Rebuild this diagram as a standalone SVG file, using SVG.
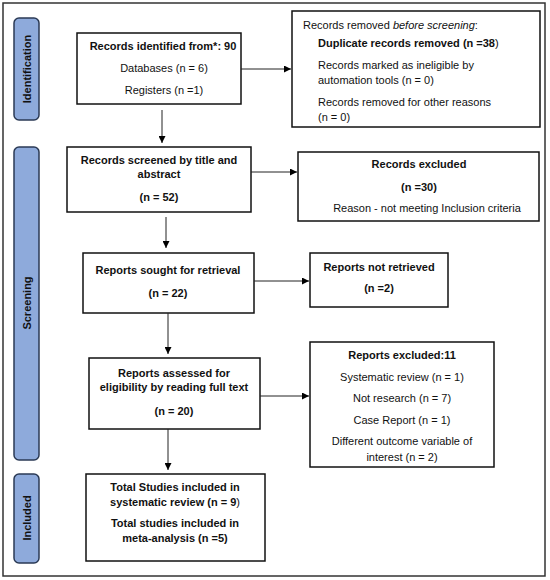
<svg xmlns="http://www.w3.org/2000/svg" width="550" height="580" viewBox="0 0 550 580">
<defs>
<marker id="ah" viewBox="0 0 10 10" refX="10" refY="5" markerWidth="7" markerHeight="7" markerUnits="userSpaceOnUse" orient="auto">
<path d="M0,0 L10,5 L0,10 z" fill="#000"/>
</marker>
<style>
.box{fill:#fff;stroke:#111;stroke-width:1.5}
.band{fill:#8eaadb;stroke:#2b3a55;stroke-width:1.5}
text{font-family:"Liberation Sans",Arial,sans-serif;font-size:11px;fill:#111}
.b{font-weight:bold}
.c{text-anchor:middle}
.conn line{stroke:#222;stroke-width:1}
</style>
</defs>
<rect width="550" height="580" fill="#fff"/>
<rect x="3" y="3" width="542" height="573" fill="none" stroke="#333" stroke-width="1.5"/>

<g id="band-identification">
<rect class="band" x="14" y="18" width="25" height="102" rx="5"/>
<text class="b c" transform="translate(30.5,69) rotate(-90)">Identification</text>
</g>
<g id="band-screening">
<rect class="band" x="14" y="147" width="25" height="313" rx="5"/>
<text class="b c" transform="translate(30.5,303) rotate(-90)">Screening</text>
</g>
<g id="band-included">
<rect class="band" x="14" y="474" width="25" height="89" rx="5"/>
<text class="b c" transform="translate(30.5,518) rotate(-90)">Included</text>
</g>

<g id="identified">
<rect class="box" x="77" y="33" width="164" height="71"/>
<text class="b c" x="163" y="50">Records identified from*: 90</text>
<text class="c" x="164" y="72">Databases (n = 6)</text>
<text class="c" x="164" y="94">Registers (n =1)</text>
</g>

<g id="removed">
<rect class="box" x="292" y="11" width="248" height="116"/>
<text x="303" y="29">Records removed <tspan font-style="italic">before screening</tspan>:</text>
<text x="318" y="47"><tspan class="b">Duplicate records removed (n =38</tspan>)</text>
<text x="318" y="69">Records marked as ineligible by</text>
<text x="318" y="84">automation tools (n = 0)</text>
<text x="318" y="106">Records removed for other reasons</text>
<text x="318" y="121"> (n = 0)</text>
</g>

<g id="screened">
<rect class="box" x="67" y="147" width="184" height="65"/>
<text class="b c" x="159" y="164">Records screened by title and</text>
<text class="b c" x="159" y="178">abstract</text>
<text class="b c" x="159" y="201">(n = 52)</text>
</g>

<g id="excluded">
<rect class="box" x="298" y="152" width="241" height="69"/>
<text class="b c" x="419" y="168">Records excluded</text>
<text class="b c" x="419" y="191">(n =30)</text>
<text class="c" x="427" y="212">Reason - not meeting Inclusion criteria</text>
</g>

<g id="sought">
<rect class="box" x="83" y="253" width="171" height="60"/>
<text class="b c" x="168" y="274">Reports sought for retrieval</text>
<text class="b c" x="168" y="297">(n = 22)</text>
</g>

<g id="not-retrieved">
<rect class="box" x="310" y="253" width="138" height="54"/>
<text class="b c" x="379" y="271">Reports not retrieved</text>
<text class="b c" x="379" y="292">(n =2)</text>
</g>

<g id="assessed">
<rect class="box" x="89" y="358" width="171" height="71"/>
<text class="b c" x="174" y="377">Reports assessed for</text>
<text class="b c" x="174" y="391">eligibility by reading full text</text>
<text class="b c" x="174" y="415">(n = 20)</text>
</g>

<g id="reports-excluded">
<rect class="box" x="310" y="342" width="184" height="125"/>
<text class="b c" x="402" y="359">Reports excluded:11</text>
<text class="c" x="402" y="381">Systematic review (n = 1)</text>
<text class="c" x="402" y="402">Not research (n = 7)</text>
<text class="c" x="402" y="424">Case Report (n = 1)</text>
<text class="c" x="402" y="445">Different outcome variable of</text>
<text class="c" x="402" y="461">interest (n = 2)</text>
</g>

<g id="included">
<rect class="box" x="86" y="474" width="179" height="87"/>
<text class="b c" x="175" y="491">Total Studies included in</text>
<text class="b c" x="175" y="506">systematic review (n = 9<tspan font-weight="normal">)</tspan></text>
<text class="b c" x="175" y="527">Total studies included in</text>
<text class="b c" x="175" y="542">meta-analysis (n =5)</text>
</g>

<g id="connectors" class="conn">
<line x1="162" y1="110" x2="162" y2="143" marker-end="url(#ah)"/>
<line x1="166" y1="217" x2="166" y2="248" marker-end="url(#ah)"/>
<line x1="168" y1="313" x2="168" y2="354" marker-end="url(#ah)"/>
<line x1="168" y1="429" x2="168" y2="470" marker-end="url(#ah)"/>
<line x1="241" y1="69" x2="291" y2="69" marker-end="url(#ah)"/>
<line x1="251" y1="172" x2="297" y2="172" marker-end="url(#ah)"/>
<line x1="254" y1="281" x2="309" y2="281" marker-end="url(#ah)"/>
<line x1="260" y1="396" x2="309" y2="396" marker-end="url(#ah)"/>
</g>
</svg>
